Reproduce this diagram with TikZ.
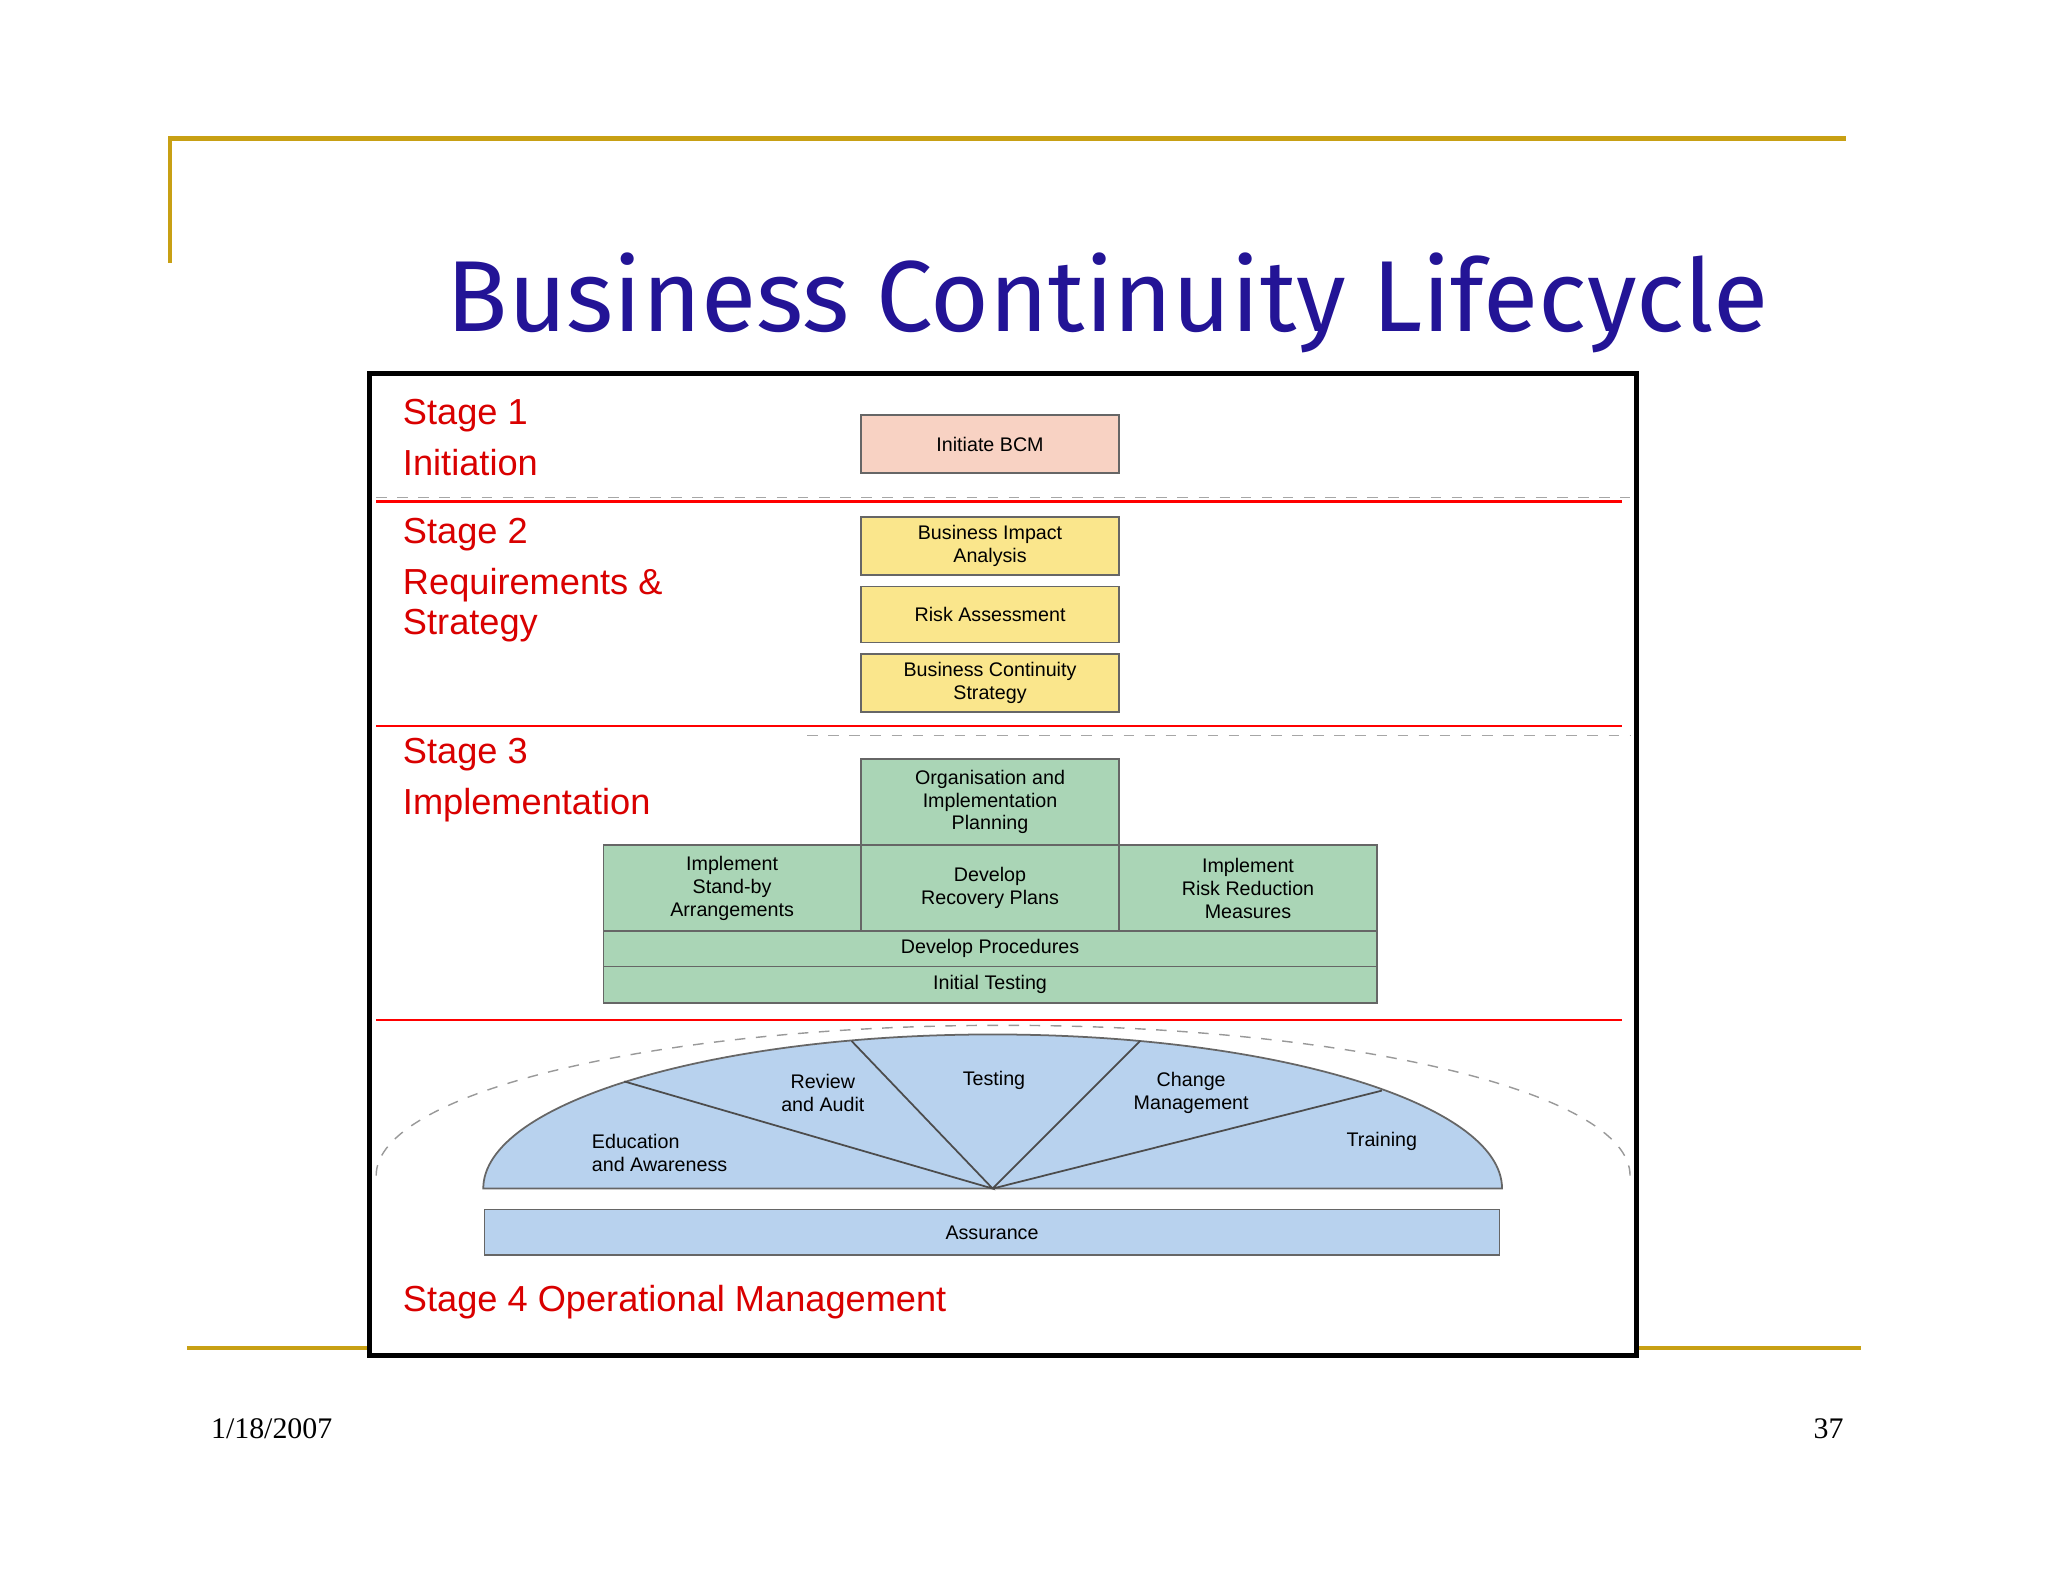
\documentclass[tikz,border=0pt]{standalone}
\usepackage{fontspec}
\setmainfont{Liberation Sans}
\newfontfamily\titlefont{Fira Sans}
\newfontfamily\datefont{Liberation Serif}
\def\uu{0.01306cm}
\begin{document}
\begin{tikzpicture}[x=0.01306cm,y=-0.01306cm,
  gold/.style={draw={rgb,255:red,200;green,160;blue,20},line width=1.2pt},
  stg/.style={anchor=west,text=red!85!black,font=\fontsize{10.3}{11.5}\selectfont,align=left,inner sep=0pt},
  bx/.style={draw=black!60,line width=0.5pt,font=\fontsize{5.6}{6.5}\selectfont,align=center,inner sep=0pt},
  pink/.style={bx,fill={rgb,255:red,248;green,210;blue,195}},
  yel/.style={bx,fill={rgb,255:red,250;green,230;blue,140}},
  grn/.style={bx,fill={rgb,255:red,170;green,213;blue,182}},
  blu/.style={fill={rgb,255:red,184;green,210;blue,238},draw=black!60,line width=0.5pt},
  sz/.style 2 args={minimum width=#1*\uu,minimum height=#2*\uu},
  lbl/.style={font=\fontsize{5.6}{6.5}\selectfont,align=center,inner sep=0pt}]
\useasboundingbox (0,0) rectangle (1568,1211);
\fill[white] (0,0) rectangle (1568,1211);
% gold decoration
\draw[gold] (130,201) -- (130,106) -- (1413,106);
\draw[gold] (143,1032) -- (283,1032);
\draw[gold] (1253,1032) -- (1425,1032);
% title
\node[font=\titlefont\fontsize{28.7}{32}\selectfont,text={rgb,255:red,35;green,20;blue,150}] (title) at (848,232) {Business Continuity Lifecycle};
% frame
\draw[line width=1.3pt] (283,286) rectangle (1253,1038);
% separators
\draw[black!35,dashed,line width=0.4pt] (288,381) -- (1248,381);
\draw[black!35,dashed,line width=0.4pt] (618,563) -- (1248,563);
\foreach \yy in {384,556,781} \draw[red,line width=0.7pt] (288,\yy) -- (1242,\yy);
% stage labels
\node[stg] (s1) at (308,335) {Stage 1\\[3pt]Initiation};
\node[stg] (s2) at (308,444) {Stage 2\\[3pt]Requirements \&\\Strategy};
\node[stg] (s3) at (308,597) {Stage 3\\[3pt]Implementation};
\node[stg] (s4) at (308,997) {Stage 4 Operational Management};
% boxes
\node[pink,sz={198}{44}] (ini) at (758,340) {Initiate BCM};
\node[yel,sz={198}{44}] (bia) at (758,418) {Business Impact\\Analysis};
\node[yel,sz={198}{43}] (ra) at (758,470.5) {Risk Assessment};
\node[yel,sz={198}{44}] (bcs) at (758,523) {Business Continuity\\Strategy};
\node[grn,sz={198}{66}] (org) at (758,614) {Organisation and\\Implementation\\Planning};
\node[grn,sz={197}{66}] (isb) at (560.5,680) {Implement\\Stand-by\\Arrangements};
\node[grn,sz={198}{66}] (drp) at (758,680) {Develop\\Recovery Plans};
\node[grn,sz={197}{66}] (irr) at (955.5,680) {Implement\\Risk Reduction\\Measures};
\node[grn,sz={592}{27}] (dp) at (758,726.5) {Develop Procedures};
\node[grn,sz={592}{28}] (it) at (758,754) {Initial Testing};
% outer dashed arc
\draw[black!40,dashed,line width=0.4pt] (288,900) arc[start angle=180,end angle=360,x radius=480,y radius=115];
% dome
\coordinate (c) at (760,910);
\draw[blu] (370,910) arc[start angle=180,end angle=360,x radius=390,y radius=118] -- cycle;
\draw[black!70,line width=0.5pt] (478,828) -- (c) -- (652,797) (c) -- (873,797) (c) -- (1058,835);
\node[lbl,align=left] (ea) at (505,883) {Education\\and Awareness};
\node[lbl] (rv) at (630,837) {Review\\and Audit};
\node[lbl] (ts) at (761,827) {Testing};
\node[lbl] (cm) at (912,837) {Change\\Management};
\node[lbl] (tr) at (1058,874) {Training};
\node[blu,lbl,sz={777}{35}] (as) at (759.5,943.5) {Assurance};
% footer
\node[font=\datefont\fontsize{8.5}{10}\selectfont] (date) at (208,1094) {1/18/2007};
\node[font=\datefont\fontsize{8.5}{10}\selectfont] (pg) at (1400,1094) {37};
\end{tikzpicture}
\end{document}
